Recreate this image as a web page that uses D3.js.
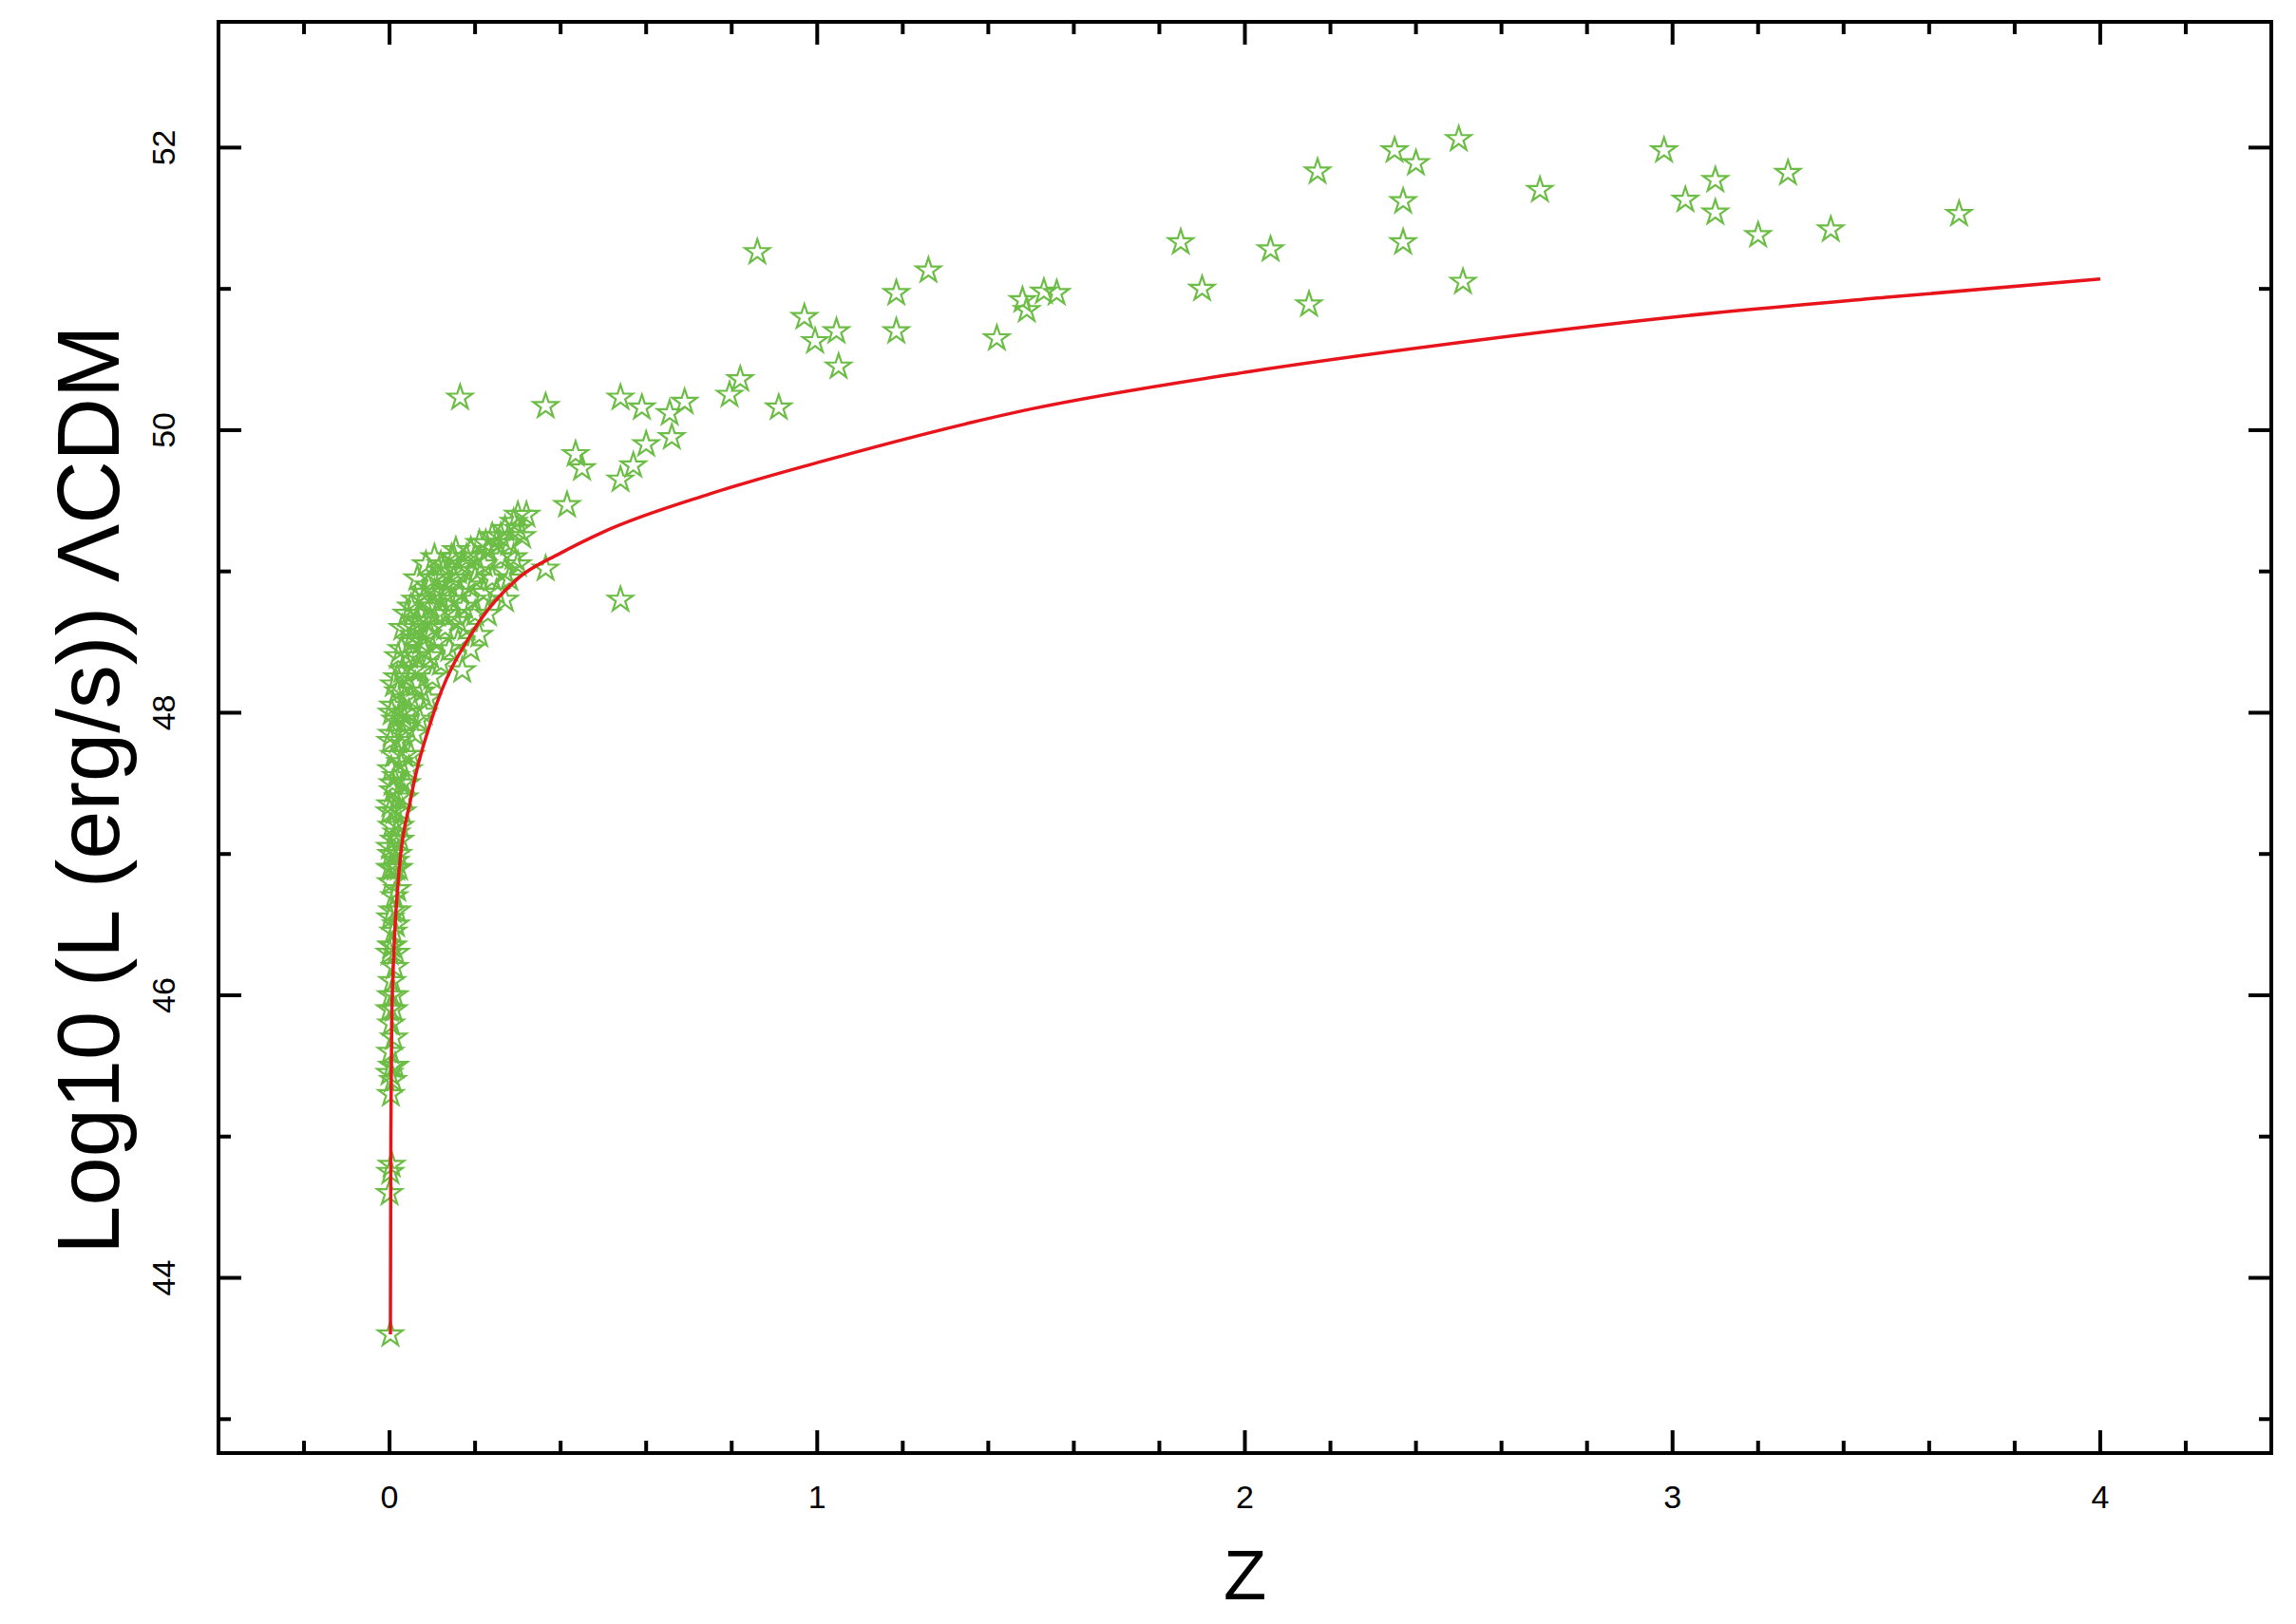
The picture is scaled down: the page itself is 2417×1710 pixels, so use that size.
<!DOCTYPE html>
<html><head><meta charset="utf-8">
<script src="https://cdn.jsdelivr.net/npm/d3@7"></script>
<style>body{margin:0;background:#fff}</style></head>
<body><svg id="c" width="2417" height="1710"></svg>
<script>
const xTicksMajor=[0,1,2,3,4];
const yTicksMajor=[44,46,48,50,52];
const curveZ=[0.002,0.003,0.005,0.01,0.02,0.05,0.1,0.2,0.3,0.4,0.5,0.75,1,1.5,2,2.5,3,3.5,4];
const curveL=[43.6,45.0,45.8,46.3,46.8,47.4,47.97,48.6,48.95,49.13,49.28,49.55,49.77,50.15,50.41,50.62,50.80,50.94,51.07];
const outliers=[[.165,50.23],[.365,50.17],[.54,50.23],[.59,50.16],[.655,50.12],[.69,50.2],[.795,50.25],[.82,50.36],[.91,50.16],[.86,51.26],[.435,49.83],[.45,49.73],[.415,49.47],[.54,49.65],[.57,49.75],[.60,49.9],[.66,49.95],[.365,49.02],[.54,48.8],[.30,49.4],[.97,50.8],[.995,50.63],[1.045,50.7],[1.05,50.45],[1.185,50.97],[1.185,50.7],[1.26,51.13],[1.42,50.65],[1.48,50.92],[1.49,50.85],[1.53,50.98],[1.56,50.97],[1.85,51.33],[1.90,51.0],[2.06,51.28],[2.15,50.89],[2.17,51.83],[2.35,51.98],[2.37,51.62],[2.37,51.33],[2.40,51.89],[2.50,52.06],[2.51,51.05],[2.69,51.7],[2.98,51.98],[3.03,51.63],[3.10,51.77],[3.10,51.54],[3.20,51.38],[3.27,51.82],[3.37,51.42],[3.67,51.53]];
const cluster=[[0.002,43.6],[0,44.6],[0.002,44.75],[0.005,44.8],[0.003,45.3],[0.0,45.45],[0.006,45.5],[0.002,45.6],[0.008,45.4],[0.004,45.8],[0,45.9],[0.01,45.9],[0.003,46.0],[0.006,46.1],[0.012,46.2],[0,46.3],[0.004,46.35],[0.009,46.45],[0.015,46.5],[0.002,46.55],[0.007,46.6],[0.011,46.7],[0.018,46.75],[0.003,46.8],[0.006,46.9],[0.014,46.95],[0.02,47.0],[0.001,47.05],[0.01,47.1],[0.016,47.15],[0.005,47.2],[0.025,47.2],[0.012,47.3],[0.002,47.35],[0.02,47.4],[0.008,47.45],[0.03,47.5],[0.015,47.55],[0.004,47.6],[0.025,47.65],[0.01,47.7],[0.035,47.7],[0.02,47.8],[0.005,47.85],[0.03,47.85],[0.04,47.9],[0.013,47.95],[0.025,48.0],[0.045,48.0],[0.008,48.05],[0.035,48.1],[0.05,48.1],[0.02,48.15],[0.06,48.2],[0.04,48.25],[0.03,48.3],[0.055,48.3],[0.07,48.3],[0.045,48.4],[0.065,48.4],[0.08,48.45],[0.05,48.5],[0.075,48.5],[0.09,48.55],[0.06,48.6],[0.1,48.6],[0.085,48.65],[0.07,48.7],[0.11,48.7],[0.095,48.75],[0.05,48.75],[0.12,48.8],[0.08,48.8],[0.105,48.85],[0.13,48.85],[0.065,48.65],[0.14,48.9],[0.115,48.95],[0.09,48.9],[0.15,48.95],[0.125,49.0],[0.16,49.0],[0.17,49.05],[0.145,49.1],[0.18,49.1],[0.155,49.15],[0.19,49.15],[0.2,49.1],[0.21,49.2],[0.165,48.85],[0.175,48.75],[0.185,48.9],[0.195,48.8],[0.205,49.0],[0.22,49.05],[0.23,49.15],[0.24,49.25],[0.25,49.2],[0.26,49.1],[0.27,49.3],[0.28,49.2],[0.29,49.35],[0.3,49.3],[0.26,49.25],[0.24,48.95],[0.22,48.85],[0.2,48.7],[0.18,48.6],[0.16,48.5],[0.14,48.45],[0.12,48.35],[0.1,48.25],[0.09,48.1],[0.08,48.0],[0.07,47.95],[0.06,47.85],[0.05,47.7],[0.045,47.6],[0.04,47.5],[0.035,47.4],[0.03,47.3],[0.025,47.1],[0.022,46.9],[0.018,46.6],[0.015,46.3],[0.012,46.0],[0.01,45.7],[0.013,45.5],[0.015,46.9],[0.035,47.95],[0.055,48.55],[0.075,48.15],[0.095,48.4],[0.11,48.5],[0.13,48.6],[0.15,48.7],[0.17,48.3],[0.19,48.45],[0.21,48.55],[0.23,48.7],[0.25,48.85],[0.27,49.0],[0.29,49.1],[0.31,49.25],[0.32,49.4],[0.28,48.95],[0.15,49.1],[0.12,49.05],[0.1,48.95],[0.08,48.85],[0.06,48.8],[0.04,48.7],[0.03,48.6],[0.02,48.4],[0.01,48.2],[0.005,48.0],[0.002,47.8],[0.018,48.25],[0.007,47.5],[0.0,47.3],[0.001,46.9],[0.008,46.35],[0.004,47.0],[0.028,48.45],[0.045,48.6],[0.065,48.95],[0.085,49.05],[0.105,49.1],[0.125,48.7],[0.145,48.8],[0.16,48.65],[0.2,48.95],[0.225,49.2],[0.3,49.05],[0.27,48.8]];

const W=2417,H=1710, L=230,R=2391,T=23,B=1530;
const x=d3.scaleLinear().domain([-0.4,4.4]).range([L,R]);
const y=d3.scaleLinear().domain([42.76,52.89]).range([B,T]);
const svg=d3.select("#c");
const g=svg.append("g");

const xMinor=d3.range(-0.2,4.41,0.2).map(v=>+v.toFixed(1)).filter(v=>!xTicksMajor.includes(v));
const yMinor=d3.range(43,53,1).filter(v=>!yTicksMajor.includes(v));
const tk=g.append("g").attr("stroke","#000").attr("stroke-width",4);
function xt(v,len){tk.append("line").attr("x1",x(v)).attr("x2",x(v)).attr("y1",B).attr("y2",B-len);
 tk.append("line").attr("x1",x(v)).attr("x2",x(v)).attr("y1",T).attr("y2",T+len);}
function yt(v,len){tk.append("line").attr("y1",y(v)).attr("y2",y(v)).attr("x1",L).attr("x2",L+len);
 tk.append("line").attr("y1",y(v)).attr("y2",y(v)).attr("x1",R).attr("x2",R-len);}
xTicksMajor.forEach(v=>xt(v,24)); xMinor.forEach(v=>xt(v,13));
yTicksMajor.forEach(v=>yt(v,24)); yMinor.forEach(v=>yt(v,13));

g.selectAll(".xl").data(xTicksMajor).join("text").attr("x",d=>x(d)).attr("y",B+58)
 .attr("text-anchor","middle").attr("font-family","Liberation Sans, Arial").attr("font-size",34).text(d=>d);
g.selectAll(".yl").data(yTicksMajor).join("text")
 .attr("transform",d=>`translate(${L-46},${y(d)}) rotate(-90)`)
 .attr("text-anchor","middle").attr("font-family","Liberation Sans, Arial").attr("font-size",34).text(d=>d);

const star=d3.symbol().type(d3.symbolStar).size(210);
const pts=outliers.concat(cluster);
g.append("g").selectAll("path").data(pts).join("path")
 .attr("d",star).attr("transform",d=>`translate(${x(d[0])},${y(d[1])})`)
 .attr("fill","none").attr("stroke","#6cbd45").attr("stroke-width",2.2);

const line=d3.line().x((d,i)=>x(curveZ[i])).y(d=>y(d)).curve(d3.curveMonotoneX);
g.append("path").attr("d",line(curveL)).attr("fill","none").attr("stroke","#e8141c").attr("stroke-width",3.5);

g.append("rect").attr("x",L).attr("y",T).attr("width",R-L).attr("height",B-T)
 .attr("fill","none").attr("stroke","#000").attr("stroke-width",4);

g.append("text").attr("x",x(2)).attr("y",1684).attr("text-anchor","middle")
 .attr("font-family","Liberation Sans, Arial").attr("font-size",74).text("Z");
g.append("text").attr("transform",`translate(${125},${(T+B)/2+55}) rotate(-90)`).attr("text-anchor","middle")
 .attr("font-family","Liberation Sans, Arial").attr("font-size",92).text("Log10 (L (erg/s)) ΛCDM");
</script></body></html>
